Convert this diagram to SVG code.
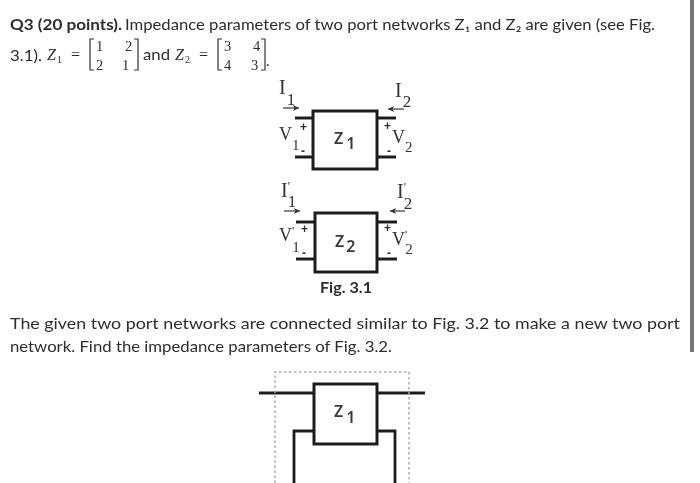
<svg xmlns="http://www.w3.org/2000/svg" width="700" height="483" viewBox="0 0 700 483">
<defs>
<marker id="arr" markerWidth="8" markerHeight="8" refX="6" refY="4" orient="auto" markerUnits="userSpaceOnUse"><path d="M0,1 L6,4 L0,7 L1.500,4 Z" fill="#333"/></marker>
<filter id="soft" x="-5%" y="-5%" width="110%" height="110%"><feGaussianBlur stdDeviation="0.5"/></filter>
</defs>
<style>
text{font-family:"Lato","Liberation Sans",sans-serif;fill:#2e2e2e;font-size:15px}
.b{font-weight:700}
.m{font-family:"Liberation Serif",serif;font-style:italic;font-size:16px}
.sub{font-family:"Liberation Serif",serif;font-style:normal;font-size:10px}
.n{font-family:"Liberation Serif",serif;font-size:14.500px}
.e{font-family:"Liberation Serif",serif;font-size:16px}
.l{font-family:"Liberation Serif",serif;font-size:20px;fill:#333}
.l tspan{font-size:17px}
.v{font-size:18px}
.v tspan{font-size:15px}
.z{font-family:"Noto Sans",sans-serif;font-size:16px;font-weight:600;fill:#3a3a3a}
.z tspan{font-size:16px}
.p{font-size:12px;font-weight:700;font-family:"Liberation Sans",sans-serif}
.w{fill:none;stroke:#1e1e1e;stroke-width:2.800}
.box{fill:#fff;stroke:#1e1e1e;stroke-width:3}
.br{fill:none;stroke:#333;stroke-width:1.200}
.a{fill:none;stroke:#444;stroke-width:1.300;marker-end:url(#arr)}
</style>
<rect width="700" height="483" fill="#fff"/>
<g filter="url(#soft)">
<rect id="page-edge" x="690" y="0" width="4" height="352" fill="#777"/>
<g id="question">
<text class="b" x="10" y="30" textLength="112" lengthAdjust="spacingAndGlyphs">Q3 (20 points).</text>
<text x="125" y="30" textLength="530" lengthAdjust="spacingAndGlyphs">Impedance parameters of two port networks Z₁ and Z₂ are given (see Fig.</text>
<text x="10" y="61" textLength="32" lengthAdjust="spacingAndGlyphs">3.1).</text>
<text class="m" x="47" y="60">Z<tspan class="sub" dy="3" dx="1">1</tspan></text>
<text class="e" x="71" y="60">=</text>
<path class="br" d="M94,39 H90 V70 H94 M134,39 H138 V70 H134"/>
<text class="n" x="96" y="51">1</text><text class="n" x="125" y="51">2</text>
<text class="n" x="96" y="70">2</text><text class="n" x="122" y="70">1</text>
<text x="143" y="60" textLength="27" lengthAdjust="spacingAndGlyphs">and</text>
<text class="m" x="175" y="60">Z<tspan class="sub" dy="3" dx="1">2</tspan></text>
<text class="e" x="199" y="60">=</text>
<path class="br" d="M222,39 H218 V70 H222 M261,39 H265 V70 H261"/>
<text class="n" x="224" y="51">3</text><text class="n" x="253" y="51">4</text>
<text class="n" x="224" y="70">4</text><text class="n" x="251" y="70">3</text>
<text x="266" y="66">.</text>
</g>
<g id="connectors">
<path class="w" d="M295,118 H313 M295,157 H313 M377,118 H396 M377,157 H396"/>
<path class="w" d="M296,222 H315 M296,259 H315 M377,222 H397 M377,259 H397"/>
<path class="w" d="M259,393 H425 M314,431 H294 V483 M377,431 H395 V483"/>
<path class="a" d="M283,108 H299"/><path class="a" d="M404,109 H388"/>
<path class="a" d="M284,211 H300"/><path class="a" d="M405,211 H390"/>
</g>
<g id="z1-top">
<rect class="box" x="313" y="111" width="64" height="58"/>
<text class="z" x="334" y="144">Z<tspan dy="5" dx="3">1</tspan></text>
</g>
<g id="z2-top">
<rect class="box" x="315" y="213" width="62" height="59"/>
<text class="z" x="335" y="247">Z<tspan dy="5" dx="2">2</tspan></text>
</g>
<g id="z1-labels">
<text class="l" x="279" y="94">I<tspan dy="11" dx="1">1</tspan></text>
<text class="l" x="395" y="97">I<tspan dy="10" dx="1">2</tspan></text>
<text class="l v" x="279" y="140">V<tspan dy="10">1</tspan></text>
<text class="p" x="300" y="131">+</text><text class="p" x="301" y="155">-</text>
<text class="l v" x="392" y="143">V<tspan dy="9">2</tspan></text>
<text class="p" x="384" y="130">+</text><text class="p" x="387" y="155">-</text>
</g>
<g id="z2-labels">
<text class="l" x="281" y="197">I<tspan dy="-7" style="font-size:12px">'</tspan><tspan dy="17" dx="-2">1</tspan></text>
<text class="l" x="397" y="198">I<tspan dy="-7" style="font-size:12px">'</tspan><tspan dy="18" dx="-2">2</tspan></text>
<text class="l v" x="279" y="241">V<tspan dy="-6" style="font-size:12px">'</tspan><tspan dy="17" dx="-2">1</tspan></text>
<text class="p" x="301" y="233">+</text><text class="p" x="302" y="257">-</text>
<text class="l v" x="392" y="245">V<tspan dy="-6" style="font-size:12px">'</tspan><tspan dy="15" dx="-2">2</tspan></text>
<text class="p" x="384" y="232">+</text><text class="p" x="387" y="257">-</text>
</g>
<text id="fig31" class="b" x="320" y="293" textLength="52" lengthAdjust="spacingAndGlyphs">Fig. 3.1</text>
<g id="task">
<text x="10" y="329" textLength="670" lengthAdjust="spacingAndGlyphs">The given two port networks are connected similar to Fig. 3.2 to make a new two port</text>
<text x="10" y="352" textLength="382" lengthAdjust="spacingAndGlyphs">network. Find the impedance parameters of Fig. 3.2.</text>
</g>
<path id="dotted-frame" d="M275,483 V372 H409 V483" fill="none" stroke="#aaa" stroke-width="1.500" stroke-dasharray="2.500 2.500"/>
<g id="z1-bottom">
<rect class="box" x="314" y="384" width="63" height="60"/>
<text class="z" x="334" y="417">Z<tspan dy="6" dx="3">1</tspan></text>
</g>
</g>
</svg>
